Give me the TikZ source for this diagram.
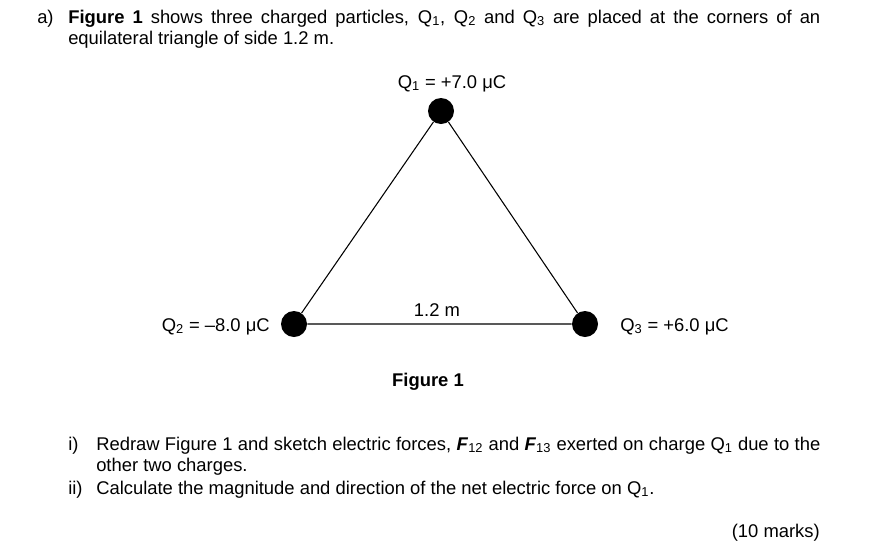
\documentclass[tikz,border=0pt]{standalone}
\usepackage{fontspec}
\setmainfont{Liberation Sans}
\begin{document}
\begin{tikzpicture}[x=0.75pt,y=-0.75pt,font=\fontsize{13.8}{16}\selectfont,
  txt/.style={inner sep=0pt,anchor=base west},
  chg/.style={circle,fill=black,minimum size=19.5pt,inner sep=0pt}]
\useasboundingbox (0,0) rectangle (871,554);
\node[chg] (q1) at (441,111) {};
\node[chg] (q2) at (294,324) {};
\node[chg] (q3) at (585,324) {};
\draw[line width=0.8pt] (q1) -- (q2) -- (q3) -- (q1);
\node[txt] (a) at (37,23) {a)};
\node[txt] (l1) at (68,23) {\makebox[564pt][s]{\textbf{Figure 1} shows three charged particles, Q\textsubscript{1}, Q\textsubscript{2} and Q\textsubscript{3} are placed at the corners of an}};
\node[txt] (l2) at (68,44) {equilateral triangle of side 1.2 m.};
\node[inner sep=0pt,anchor=base] (lq1) at (452,88) {Q\textsubscript{1} = +7.0 μC};
\node[inner sep=0pt,anchor=base east] (lq2) at (270,331) {Q\textsubscript{2} = –8.0 μC};
\node[txt] (lq3) at (620,331) {Q\textsubscript{3} = +6.0 μC};
\node[inner sep=0pt,anchor=base] (len) at (437,316) {1.2 m};
\node[inner sep=0pt,anchor=base] (fig) at (428,386) {\textbf{Figure 1}};
\node[txt] (i) at (68,450) {i)};
\node[txt] (it) at (96,450) {\makebox[543pt][s]{Redraw Figure 1 and sketch electric forces, \textbf{\textit{F}}\textsubscript{12} and \textbf{\textit{F}}\textsubscript{13} exerted on charge Q\textsubscript{1} due to the}};
\node[txt] (it2) at (96,471) {other two charges.};
\node[txt] (ii) at (68,494) {ii)};
\node[txt] (iit) at (96,494) {Calculate the magnitude and direction of the net electric force on Q\textsubscript{1}.};
\node[inner sep=0pt,anchor=base east] (m) at (820,537) {(10 marks)};
\end{tikzpicture}
\end{document}
